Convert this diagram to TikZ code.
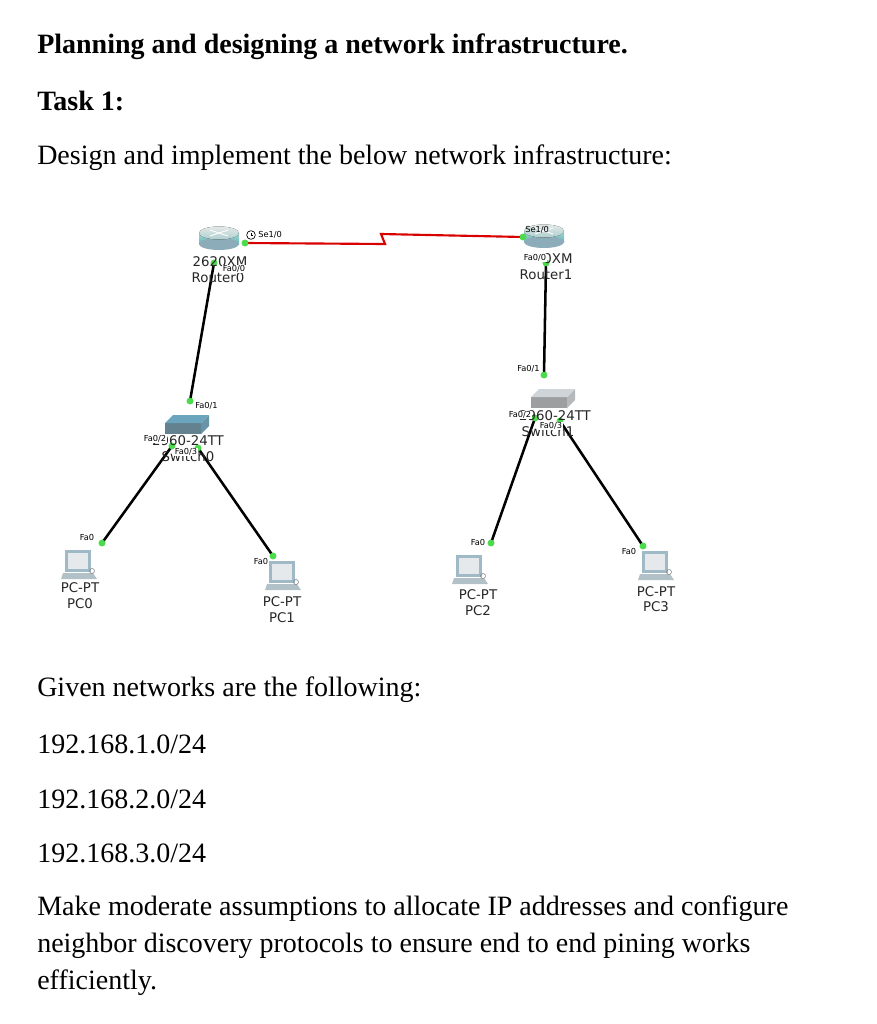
\documentclass[tikz,border=0pt]{standalone}
\usepackage{fontspec}
\setmainfont{Liberation Serif}
\newfontfamily\pt{DejaVu Sans}
\colorlet{swA}{cyan!45!gray}
\colorlet{swB}{cyan!12!gray!40}
\begin{document}
\begin{tikzpicture}[x=0.75pt,y=-0.75pt,
  body/.style={anchor=west,inner sep=0,font=\fontsize{21}{25}\selectfont},
  dev/.style={inner sep=0,font=\pt\fontsize{10}{11}\selectfont,text=black!85},
  port/.style={inner sep=0,font=\pt\fontsize{6.2}{7}\selectfont},
  dot/.style={circle,fill=green!80!black!70,inner sep=0,minimum size=5pt},
  link/.style={line width=1.9pt,black}]
\useasboundingbox (0,0) rectangle (877,1024);
\node[body,font=\bfseries\fontsize{21}{25}\selectfont] (t1) at (37,47) {Planning and designing a network infrastructure.};
\node[body,font=\bfseries\fontsize{21}{25}\selectfont] (t2) at (37,101) {Task 1:};
\node[body] (t3) at (37,158) {Design and implement the below network infrastructure:};
\node[body] (t4) at (37,690) {Given networks are the following:};
\node[body] (t5) at (37,744) {192.168.1.0/24};
\node[body] (t6) at (37,799) {192.168.2.0/24};
\node[body] (t7) at (37,853) {192.168.3.0/24};
\node[body] (t8) at (37,909) {Make moderate assumptions to allocate IP addresses and configure};
\node[body] (t9) at (37,946) {neighbor discovery protocols to ensure end to end pining works};
\node[body] (t10) at (37,983) {efficiently.};

% icons
\def\router#1#2{%
  \fill[top color=cyan!30!gray!50,bottom color=cyan!40!gray!90] (#1-20,#2-5) rectangle (#1+20,#2+6);
  \fill[cyan!30!gray!85] (#1,#2+6) ellipse (20 and 6);
  \fill[top color=cyan!10!gray!20,bottom color=cyan!25!gray!50] (#1,#2-5) ellipse (20 and 6.5);
  \draw[white,line width=0.7pt] (#1-9,#2-8)--(#1+9,#2-2) (#1-9,#2-2)--(#1+9,#2-8);}
\def\switch#1#2#3{%
  \fill[#3!70!black] (#1-22,#2-2) rectangle (#1+14,#2+9);
  \fill[#3!85!black] (#1+14,#2-2)--(#1+22,#2-10)--(#1+22,#2+1)--(#1+14,#2+9)--cycle;
  \fill[#3] (#1-22,#2-2)--(#1-14,#2-10)--(#1+22,#2-10)--(#1+14,#2-2)--cycle;}
\def\pc#1#2{%
  \fill[cyan!30!gray!70] (#1-14,#2-17) rectangle (#1+12,#2+5);
  \fill[cyan!10!gray!20] (#1-11,#2-14) rectangle (#1+9,#2+2);
  \fill[cyan!20!gray!60] (#1-16,#2+6)--(#1+14,#2+6)--(#1+18,#2+12)--(#1-18,#2+12)--cycle;
  \draw[gray] (#1+13,#2+4) circle (2.5);}
\router{219}{238}\router{544}{236}
\switch{187}{425}{swA}\switch{553}{399}{swB}
\pc{79}{567}\pc{283}{578}\pc{470}{572}\pc{656}{568}

% ports
\node[dot] (r0s) at (245,243) {}; \node[dot] (r1s) at (523,237) {};
\node[dot] (r0f) at (214,263) {}; \node[dot] (s0u) at (190,401) {};
\node[dot] (r1f) at (546,263) {}; \node[dot] (s1u) at (544,375) {};
\node[dot] (s0a) at (172,446) {}; \node[dot] (s0b) at (198,448) {};
\node[dot] (s1a) at (535,418) {}; \node[dot] (s1b) at (560,421) {};
\node[dot] (p0) at (102,543) {}; \node[dot] (p1) at (273,556) {};
\node[dot] (p2) at (491,543) {}; \node[dot] (p3) at (643,546) {};
\coordinate (z1) at (385,244); \coordinate (z2) at (381,234);
\draw[red!85!black,line width=1.6pt] (r0s.center)--(z1)--(z2)--(r1s.center);
\draw[link] (r0f.center)--(s0u.center) (r1f.center)--(s1u.center)
  (s0a.center)--(p0.center) (s0b.center)--(p1.center)
  (s1a.center)--(p2.center) (s1b.center)--(p3.center);
\foreach \n in {r0s,r1s,r0f,s0u,r1f,s1u,s0a,s0b,s1a,s1b,p0,p1,p2,p3}{\node[dot] at (\n) {};}

% labels
\node[circle,draw,inner sep=0,minimum size=6.5pt,line width=0.5pt] (clk) at (251,235) {};
\draw[line width=0.4pt] (clk.center)--++(0,-2) (clk.center)--++(1.5,0);
\node[port,anchor=west] (l1) at (258,235) {Se1/0};
\node[port,anchor=west] (l2) at (525,230) {Se1/0};
\node[dev] (r0a) at (220,262) {2620XM};
\node[dev] (r0b) at (218,278) {Router0};
\node[port,fill=white,inner sep=0.5pt] (l3) at (234,269) {Fa0/0};
\node[dev] (r1a) at (558,259) {0XM};
\node[port,fill=white,inner sep=0.5pt] (l4) at (535,258) {Fa0/0};
\node[dev] (r1b) at (546,275) {Router1};
\node[port,anchor=west] (l5) at (195,406) {Fa0/1};
\node[port,anchor=east] (l6) at (540,369) {Fa0/1};
\node[dev] (s0n) at (188,441) {2960-24TT};
\node[dev] (s0m) at (188,457) {Switch0};
\node[port,fill=white,inner sep=0.5pt] (l7) at (155,439) {Fa0/2};
\node[port,fill=white,inner sep=0.5pt] (l8) at (186,452) {Fa0/3};
\node[dev] (s1n) at (555,416) {2960-24TT};
\node[dev] (s1m) at (548,432) {Switch1};
\node[port,fill=white,inner sep=0.5pt] (l9) at (520,415) {Fa0/2};
\node[port,fill=white,inner sep=0.5pt] (l10) at (551,426) {Fa0/3};
\node[port] (f0) at (87,537) {Fa0};
\node[port] (f1) at (261,561) {Fa0};
\node[port] (f2) at (478,542) {Fa0};
\node[port] (f3) at (629,551) {Fa0};
\node[dev] (a0) at (80,588) {PC-PT}; \node[dev] (b0) at (80,604) {PC0};
\node[dev] (a1) at (282,602) {PC-PT}; \node[dev] (b1) at (282,618) {PC1};
\node[dev] (a2) at (478,595) {PC-PT}; \node[dev] (b2) at (478,611) {PC2};
\node[dev] (a3) at (656,592) {PC-PT}; \node[dev] (b3) at (656,607) {PC3};
\end{tikzpicture}
\end{document}
